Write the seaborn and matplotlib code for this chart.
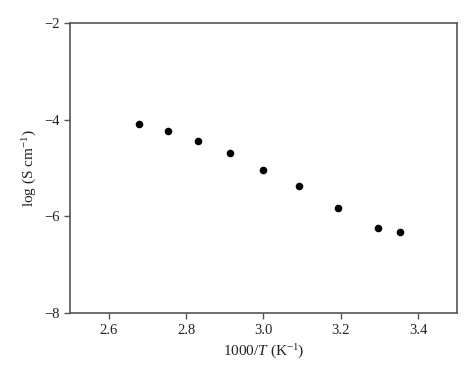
import matplotlib
matplotlib.use("Agg")
import matplotlib.pyplot as plt
import seaborn as sns
import pandas as pd

inv_T = [2.679, 2.753, 2.830, 2.913, 3.000, 3.093, 3.192, 3.297, 3.352]
log_sigma = [-4.09, -4.24, -4.44, -4.70, -5.05, -5.37, -5.82, -6.23, -6.32]
x_ticks = [2.6, 2.8, 3.0, 3.2, 3.4]
y_ticks = [-8, -6, -4, -2]

df = pd.DataFrame({"x": inv_T, "y": log_sigma})

sns.set_style("ticks")
plt.rcParams["font.family"] = ["Liberation Serif", "DejaVu Serif"]
plt.rcParams["mathtext.fontset"] = "custom"
plt.rcParams["mathtext.rm"] = "Liberation Serif"
plt.rcParams["mathtext.it"] = "Liberation Serif:italic"

fig = plt.figure(figsize=(4.74, 3.78), dpi=100)
ax = fig.add_axes([0.1477, 0.171, 0.8163, 0.769])
sns.scatterplot(data=df, x="x", y="y", ax=ax, color="black", s=30, edgecolor="black", linewidth=0)

ax.set_xlim(2.5, 3.5)
ax.set_ylim(-8, -2)
ax.set_xticks(x_ticks)
ax.set_xticklabels([f"{v:.1f}" for v in x_ticks])
ax.set_yticks(y_ticks)
ax.set_yticklabels(["\u2212" + str(abs(v)) for v in y_ticks])
ax.set_xlabel("1000/$\\mathit{T}$ (K$^{-1}$)", fontsize=11, color="#222222")
ax.set_ylabel("log (S cm$^{-1}$)", fontsize=11, color="#222222")
for s in ax.spines.values():
    s.set_color("#555555")
    s.set_linewidth(1.2)
    s.set_visible(True)
ax.tick_params(axis="both", which="both", direction="out", length=4, width=1.0, color="#555555", labelsize=10.5, labelcolor="#222222")
ax.tick_params(top=False, right=False)

fig.savefig("out.png", dpi=100)
